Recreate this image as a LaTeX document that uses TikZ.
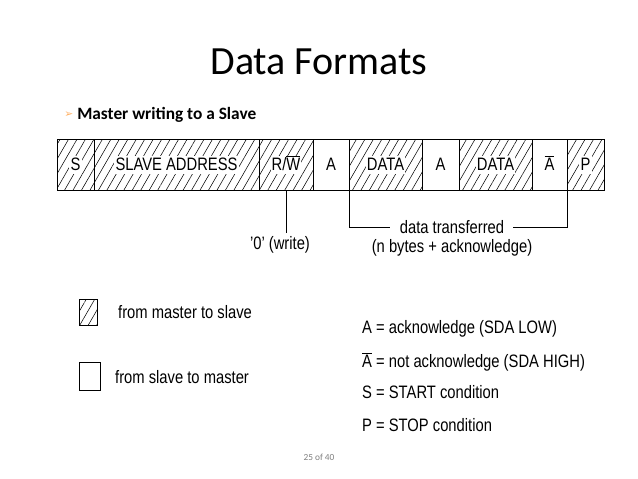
\documentclass[tikz,border=0pt]{standalone}
\usepackage{fontspec}
\setmainfont{Liberation Sans}
\newfontfamily\calf{Carlito}
\newfontfamily\dvf{DejaVu Sans}
\usetikzlibrary{patterns.meta}
\newcommand{\ovl}[1]{\ensuremath{\overline{\mbox{#1}}}}
\begin{document}
\begin{tikzpicture}[x=0.75pt,y=-0.75pt,
  hat/.style={draw,line width=0.6pt,pattern={Lines[angle=60,distance=5.5pt,line width=0.4pt]}},
  emp/.style={draw,line width=0.6pt},
  ctxt/.style={font=\fontsize{13.5}{15}\selectfont,xscale=0.82,inner sep=0pt},
  ltxt/.style={font=\fontsize{13.5}{16}\selectfont,xscale=0.82,inner sep=0pt,anchor=west}]
\useasboundingbox[fill=white] (0,0) rectangle (638,478);
\node (title) at (319,62) {\calf\fontsize{30}{34}\selectfont Data Formats};
\node[anchor=west,inner sep=0pt] (bul) at (64,115) {\dvf\fontsize{8}{9}\selectfont\color{orange!60}➢};
\node[anchor=west,inner sep=0pt] (sub) at (77,115) {\calf\bfseries\fontsize{13}{15}\selectfont Master writing to a Slave};
% cells
\def\yt{139}\def\yb{190}
\draw[hat] (57,\yt) rectangle (94,\yb);
\draw[hat] (94,\yt) rectangle (259,\yb);
\draw[hat] (259,\yt) rectangle (313,\yb);
\draw[emp] (313,\yt) rectangle (349,\yb);
\draw[hat] (349,\yt) rectangle (422,\yb);
\draw[emp] (422,\yt) rectangle (459,\yb);
\draw[hat] (459,\yt) rectangle (532,\yb);
\draw[emp] (532,\yt) rectangle (567,\yb);
\draw[hat] (567,\yt) rectangle (604,\yb);
\foreach \x/\t/\n in {75.5/S/cS,176.5/SLAVE ADDRESS/cSA,286/{R/\ovl{W}}/cRW,331/A/cA1,385.5/DATA/cD1,440.5/A/cA2,495.5/DATA/cD2,549.5/{\ovl{A}}/cNA,585.5/P/cP}
  \node[ctxt,fill=white,inner sep=1pt,text height=10.5pt,text depth=1pt] (\n) at (\x,164.5) {\t};
% annotations
\coordinate (rwb) at (286,\yb);
\node[ctxt] (wr) at (280,245) {{\char39}0{\char39} (write)};
\draw[line width=0.6pt] (rwb) -- (286,233);
\node[ctxt] (dt) at (452,227) {data transferred};
\node[ctxt] (nb) at (452,248) {(n bytes + acknowledge)};
\coordinate (bl) at (349,\yb); \coordinate (br) at (567,\yb);
\draw[line width=0.6pt] (bl) -- (349,227) -- (390,227);
\draw[line width=0.6pt] (513,227) -- (567,227) -- (br);
% legend
\draw[hat] (79,299) rectangle (97,325);
\node[ltxt] (l1) at (118,312) {from master to slave};
\draw[emp] (79,362) rectangle (100,390);
\node[ltxt] (l2) at (115,377) {from slave to master};
\node[ltxt] (k1) at (362,329) {A = acknowledge (SDA LOW)};
\node[ltxt] (k2) at (362,362) {\ovl{A} = not acknowledge (SDA HIGH)};
\node[ltxt] (k3) at (362,392) {S = START condition};
\node[ltxt] (k4) at (362,425) {P = STOP condition};
\node (pg) at (319,457) {\calf\fontsize{7}{8}\selectfont\color{gray}25 of 40};
\end{tikzpicture}
\end{document}
